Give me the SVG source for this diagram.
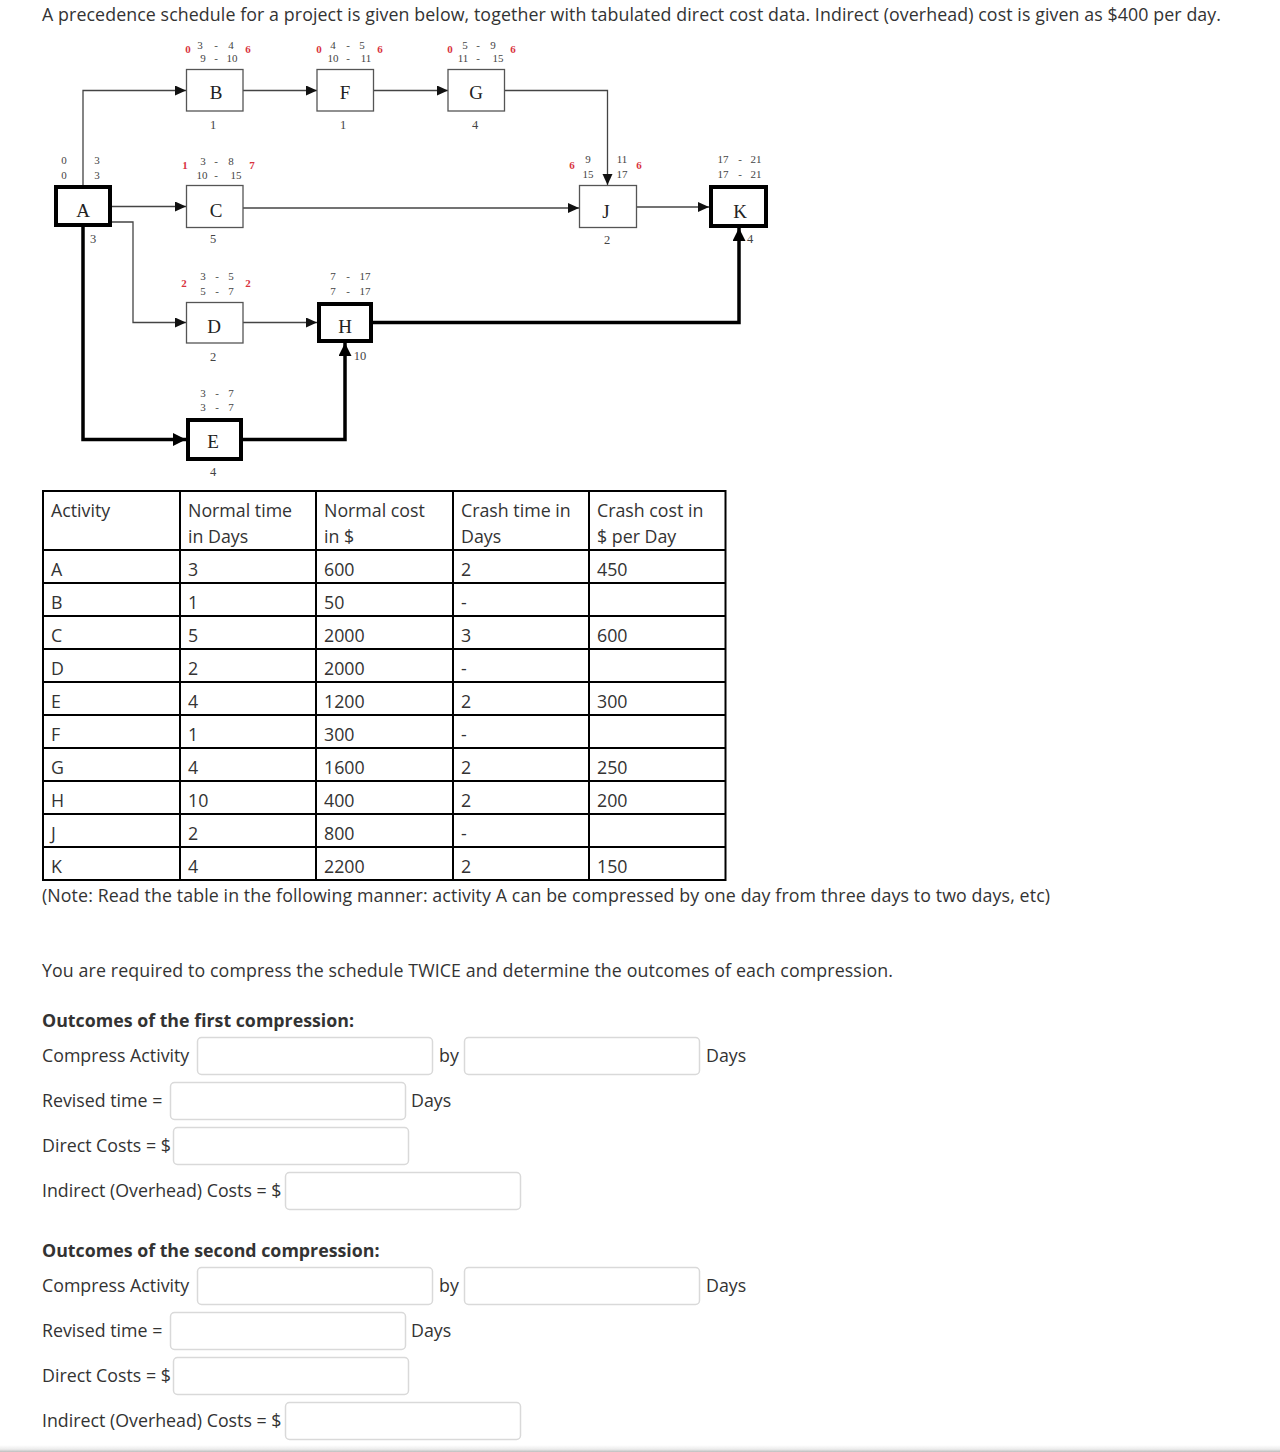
<svg xmlns="http://www.w3.org/2000/svg" width="1280" height="1452" viewBox="0 0 1280 1452">
<style>
.t{font-family:"Open Sans","Liberation Sans",sans-serif;font-size:17.8px;fill:#333}
.b{font-weight:bold}
.n{fill:#fff;stroke:#555;stroke-width:1.3}
.nk{fill:#fff;stroke:#000;stroke-width:4}
.lt{font-family:"Liberation Serif",serif;font-size:19px;fill:#222;text-anchor:middle}
.s{font-family:"Liberation Serif",serif;font-size:11px;fill:#444;text-anchor:middle}
.r{font-family:"Liberation Serif",serif;font-size:11px;font-weight:bold;fill:#d9343f;text-anchor:middle}
.d{font-family:"Liberation Serif",serif;font-size:12.5px;fill:#444;text-anchor:middle}
.c{fill:none;stroke:#444;stroke-width:1.3}
.ck{fill:none;stroke:#000;stroke-width:3.5}
.tb{fill:none;stroke:#000;stroke-width:2}
.in{fill:#fff;stroke:#d9d9d9;stroke-width:1.5}
</style>
<defs>
<marker id="ah" markerUnits="userSpaceOnUse" markerWidth="12" markerHeight="11" refX="11" refY="5" orient="auto"><path d="M0,0 L11,5 L0,10 z" fill="#111"/></marker>
<marker id="ahk" markerUnits="userSpaceOnUse" markerWidth="14" markerHeight="14" refX="13" refY="6.5" orient="auto"><path d="M0,0 L13,6.5 L0,13 z" fill="#000"/></marker>
<linearGradient id="bot" x1="0" y1="0" x2="0" y2="1"><stop offset="0" stop-color="#fff"/><stop offset="0.6" stop-color="#ececec"/><stop offset="1" stop-color="#bdbdbd"/></linearGradient>
</defs>
<rect width="1280" height="1452" fill="#fff"/>
<text class="t" x="42" y="20.5" textLength="1179">A precedence schedule for a project is given below, together with tabulated direct cost data. Indirect (overhead) cost is given as $400 per day.</text>

<g id="connectors">
<path class="c" d="M83,185 V90.5 H186" marker-end="url(#ah)"/>
<path class="c" d="M243,90.5 H317" marker-end="url(#ah)"/>
<path class="c" d="M374,90.5 H448" marker-end="url(#ah)"/>
<path class="c" d="M505,90.5 H607.5 V185" marker-end="url(#ah)"/>
<path class="c" d="M112,206.5 H186" marker-end="url(#ah)"/>
<path class="c" d="M243,208 H579" marker-end="url(#ah)"/>
<path class="c" d="M112,222 H133 V322.5 H186" marker-end="url(#ah)"/>
<path class="c" d="M243,322.5 H317" marker-end="url(#ah)"/>
<path class="c" d="M637,207 H709" marker-end="url(#ah)"/>
<path class="ck" d="M83,227 V439.5 H186" marker-end="url(#ahk)"/>
<path class="ck" d="M243,439.5 H345 V343" marker-end="url(#ahk)"/>
<path class="ck" d="M373,322.5 H739 V228" marker-end="url(#ahk)"/>
</g>

<g id="node-A">
<rect class="nk" x="56" y="187" width="54" height="38"/>
<text class="lt" x="83" y="216.5">A</text>
<text class="s" x="64" y="164">0</text><text class="s" x="64" y="179">0</text>
<text class="s" x="97" y="164">3</text><text class="s" x="97" y="179">3</text>
<text class="d" x="93" y="243">3</text>
</g>
<g id="node-B">
<rect class="n" x="186.5" y="69.5" width="56.5" height="41.5"/>
<text class="lt" x="216" y="99">B</text>
<text class="s" y="48.5"><tspan x="200">3</tspan><tspan x="216">-</tspan><tspan x="231">4</tspan></text>
<text class="s" y="62"><tspan x="203">9</tspan><tspan x="216">-</tspan><tspan x="232">10</tspan></text>
<text class="r" x="188" y="53">0</text><text class="r" x="248" y="53">6</text>
<text class="d" x="213" y="129">1</text>
</g>
<g id="node-F">
<rect class="n" x="317" y="69.5" width="56.5" height="41.5"/>
<text class="lt" x="345" y="99">F</text>
<text class="s" y="48.5"><tspan x="333">4</tspan><tspan x="348">-</tspan><tspan x="362">5</tspan></text>
<text class="s" y="62"><tspan x="333">10</tspan><tspan x="348">-</tspan><tspan x="366">11</tspan></text>
<text class="r" x="319" y="53">0</text><text class="r" x="380" y="53">6</text>
<text class="d" x="343" y="129">1</text>
</g>
<g id="node-G">
<rect class="n" x="448" y="69.5" width="56.5" height="41.5"/>
<text class="lt" x="476" y="99">G</text>
<text class="s" y="48.5"><tspan x="465">5</tspan><tspan x="478">-</tspan><tspan x="493">9</tspan></text>
<text class="s" y="62"><tspan x="463">11</tspan><tspan x="478">-</tspan><tspan x="498">15</tspan></text>
<text class="r" x="450" y="53">0</text><text class="r" x="513" y="53">6</text>
<text class="d" x="475" y="129">4</text>
</g>
<g id="node-C">
<rect class="n" x="186.5" y="185.5" width="56.5" height="42"/>
<text class="lt" x="216" y="216.5">C</text>
<text class="s" y="165"><tspan x="203">3</tspan><tspan x="216">-</tspan><tspan x="231">8</tspan></text>
<text class="s" y="179"><tspan x="202">10</tspan><tspan x="216">-</tspan><tspan x="236">15</tspan></text>
<text class="r" x="185" y="169">1</text><text class="r" x="252" y="169">7</text>
<text class="d" x="213" y="243">5</text>
</g>
<g id="node-D">
<rect class="n" x="186.5" y="302.5" width="56.5" height="40.5"/>
<text class="lt" x="214" y="332.5">D</text>
<text class="s" y="280"><tspan x="203">3</tspan><tspan x="217">-</tspan><tspan x="231">5</tspan></text>
<text class="s" y="294.5"><tspan x="203">5</tspan><tspan x="217">-</tspan><tspan x="231">7</tspan></text>
<text class="r" x="184" y="287">2</text><text class="r" x="248" y="287">2</text>
<text class="d" x="213" y="361">2</text>
</g>
<g id="node-E">
<rect class="nk" x="188" y="420" width="53" height="39"/>
<text class="lt" x="213" y="448">E</text>
<text class="s" y="397"><tspan x="203">3</tspan><tspan x="217">-</tspan><tspan x="231">7</tspan></text>
<text class="s" y="410.5"><tspan x="203">3</tspan><tspan x="217">-</tspan><tspan x="231">7</tspan></text>
<text class="d" x="213" y="476">4</text>
</g>
<g id="node-H">
<rect class="nk" x="319" y="304" width="52" height="37"/>
<text class="lt" x="345" y="332.5">H</text>
<text class="s" y="280"><tspan x="333">7</tspan><tspan x="348">-</tspan><tspan x="365">17</tspan></text>
<text class="s" y="294.5"><tspan x="333">7</tspan><tspan x="348">-</tspan><tspan x="365">17</tspan></text>
<text class="d" x="360" y="360">10</text>
</g>
<g id="node-J">
<rect class="n" x="579.5" y="185.5" width="57" height="42"/>
<text class="lt" x="606" y="217.5">J</text>
<text class="s" x="588" y="163">9</text><text class="s" x="588" y="178">15</text>
<text class="s" x="622" y="163">11</text><text class="s" x="622" y="178">17</text>
<text class="r" x="572" y="169">6</text><text class="r" x="639" y="169">6</text>
<text class="d" x="607" y="244">2</text>
</g>
<g id="node-K">
<rect class="nk" x="711" y="187" width="55" height="39"/>
<text class="lt" x="740" y="217.5">K</text>
<text class="s" y="163"><tspan x="723">17</tspan><tspan x="740">-</tspan><tspan x="756">21</tspan></text>
<text class="s" y="178"><tspan x="723">17</tspan><tspan x="740">-</tspan><tspan x="756">21</tspan></text>
<text class="d" x="750" y="243">4</text>
</g>

<g id="table">
<rect class="tb" x="43" y="491" width="682.5" height="389"/>
<path class="tb" d="M180,491 V880 M316,491 V880 M453,491 V880 M589,491 V880 M43,550 H725.5 M43,583 H725.5 M43,616 H725.5 M43,649 H725.5 M43,682 H725.5 M43,715 H725.5 M43,748 H725.5 M43,781 H725.5 M43,814 H725.5 M43,847 H725.5"/>
<text class="t" x="51" y="516.5">Activity</text>
<text class="t" x="188" y="516.5">Normal time</text><text class="t" x="188" y="542.5">in Days</text>
<text class="t" x="324" y="516.5">Normal cost</text><text class="t" x="324" y="542.5">in $</text>
<text class="t" x="461" y="516.5">Crash time in</text><text class="t" x="461" y="542.5">Days</text>
<text class="t" x="597" y="516.5">Crash cost in</text><text class="t" x="597" y="542.5">$ per Day</text>
<g class="t">
<text x="51" y="575.5">A</text><text x="188" y="575.5">3</text><text x="324" y="575.5">600</text><text x="461" y="575.5">2</text><text x="597" y="575.5">450</text>
<text x="51" y="608.5">B</text><text x="188" y="608.5">1</text><text x="324" y="608.5">50</text><text x="461" y="608.5">-</text>
<text x="51" y="641.5">C</text><text x="188" y="641.5">5</text><text x="324" y="641.5">2000</text><text x="461" y="641.5">3</text><text x="597" y="641.5">600</text>
<text x="51" y="674.5">D</text><text x="188" y="674.5">2</text><text x="324" y="674.5">2000</text><text x="461" y="674.5">-</text>
<text x="51" y="707.5">E</text><text x="188" y="707.5">4</text><text x="324" y="707.5">1200</text><text x="461" y="707.5">2</text><text x="597" y="707.5">300</text>
<text x="51" y="740.5">F</text><text x="188" y="740.5">1</text><text x="324" y="740.5">300</text><text x="461" y="740.5">-</text>
<text x="51" y="773.5">G</text><text x="188" y="773.5">4</text><text x="324" y="773.5">1600</text><text x="461" y="773.5">2</text><text x="597" y="773.5">250</text>
<text x="51" y="806.5">H</text><text x="188" y="806.5">10</text><text x="324" y="806.5">400</text><text x="461" y="806.5">2</text><text x="597" y="806.5">200</text>
<text x="51" y="839.5">J</text><text x="188" y="839.5">2</text><text x="324" y="839.5">800</text><text x="461" y="839.5">-</text>
<text x="51" y="872.5">K</text><text x="188" y="872.5">4</text><text x="324" y="872.5">2200</text><text x="461" y="872.5">2</text><text x="597" y="872.5">150</text>
</g>
</g>
<text class="t" x="42" y="901.5" textLength="1008">(Note: Read the table in the following manner: activity A can be compressed by one day from three days to two days, etc)</text>

<text class="t" x="42" y="976.5" textLength="851">You are required to compress the schedule TWICE and determine the outcomes of each compression.</text>

<g id="form">
<text class="t b" x="42" y="1026.5">Outcomes of the first compression:</text>
<text class="t" x="42" y="1061.5">Compress Activity</text>
<rect class="in" x="197.5" y="1037.5" width="235" height="37" rx="4"/>
<text class="t" x="439" y="1061.5">by</text>
<rect class="in" x="464.5" y="1037.5" width="235" height="37" rx="4"/>
<text class="t" x="706" y="1061.5">Days</text>
<text class="t" x="42" y="1106.5">Revised time =</text>
<rect class="in" x="170.5" y="1082.5" width="235" height="37" rx="4"/>
<text class="t" x="411" y="1106.5">Days</text>
<text class="t" x="42" y="1151.5">Direct Costs = $</text>
<rect class="in" x="173.5" y="1127.5" width="235" height="37" rx="4"/>
<text class="t" x="42" y="1196.5">Indirect (Overhead) Costs = $</text>
<rect class="in" x="285.5" y="1172.5" width="235" height="37" rx="4"/>

<text class="t b" x="42" y="1256.5">Outcomes of the second compression:</text>
<text class="t" x="42" y="1291.5">Compress Activity</text>
<rect class="in" x="197.5" y="1267.5" width="235" height="37" rx="4"/>
<text class="t" x="439" y="1291.5">by</text>
<rect class="in" x="464.5" y="1267.5" width="235" height="37" rx="4"/>
<text class="t" x="706" y="1291.5">Days</text>
<text class="t" x="42" y="1336.5">Revised time =</text>
<rect class="in" x="170.5" y="1312.5" width="235" height="37" rx="4"/>
<text class="t" x="411" y="1336.5">Days</text>
<text class="t" x="42" y="1381.5">Direct Costs = $</text>
<rect class="in" x="173.5" y="1357.5" width="235" height="37" rx="4"/>
<text class="t" x="42" y="1426.5">Indirect (Overhead) Costs = $</text>
<rect class="in" x="285.5" y="1402.5" width="235" height="37" rx="4"/>
</g>
<rect x="0" y="1445" width="1280" height="7" fill="url(#bot)"/>
</svg>
